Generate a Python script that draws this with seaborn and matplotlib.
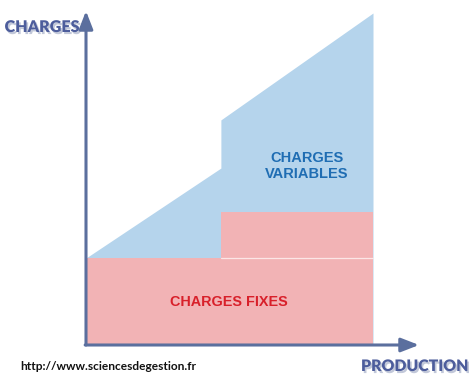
import matplotlib
matplotlib.use("Agg")
import matplotlib.pyplot as plt
import matplotlib.patheffects as pe
import seaborn as sns
import numpy as np

# Data (production units vs charge units)
production = [0.0, 4.7, 4.7, 10.0]
total_charges = [2.62, 5.33, 6.78, 10.0]     # top of blue area (total)
fixed_level = 2.62                            # charges fixes
step_start = 4.7                              # second level of fixed charges
fixed_level2 = 4.0
prod_max = 10.0

sns.set_theme(style="white")
plt.rcParams['font.family'] = ['Liberation Sans', 'DejaVu Sans']

fig = plt.figure(figsize=(4.74, 3.85), dpi=100)
ax = fig.add_axes([0, 0, 1, 1])
sx, sy = 28.7, 33.2
ax.set_xlim(-86 / sx, (474 - 86) / sx)
ax.set_ylim((345 - 385) / sy, 345 / sy)
ax.axis("off")

blue = "#b5d4ec"
pink = "#f2b3b5"
axis_col = "#5b6f9e"

# total charges (blue)
ax.fill_between(production, 0, total_charges, color=blue, lw=0, zorder=1)
# fixed charges (pink)
ax.fill_between([0, prod_max], 0, fixed_level, color=pink, lw=0, zorder=2)
ax.fill_between([step_start, prod_max], fixed_level, fixed_level2, color=pink, lw=0, zorder=2)
ax.plot([step_start, prod_max], [fixed_level, fixed_level], color="#fbe6e6", lw=0.9, zorder=3)

# axes arrows
ax.annotate("", xy=(0, (345 - 11) / sy), xytext=(0, 0),
            arrowprops=dict(arrowstyle="-|>,head_length=0.9,head_width=0.35",
                            color=axis_col, lw=2.2, shrinkA=0, shrinkB=0), zorder=5)
ax.annotate("", xy=((419 - 86) / sx, 0), xytext=(-0.03, 0),
            arrowprops=dict(arrowstyle="-|>,head_length=0.9,head_width=0.35",
                            color=axis_col, lw=2.2, shrinkA=0, shrinkB=0), zorder=5)

title_font = ["Lato", "DejaVu Sans"]
shadow = [pe.SimplePatchShadow(offset=(1.2, -1.5), shadow_rgbFace="#9aa4c0", alpha=0.6), pe.Normal()]
ax.text((42 - 86) / sx, (345 - 27) / sy, "CHARGES", ha="center", va="center",
        fontsize=11.6, fontweight="heavy", color="#4d5d9c", family=title_font,
        path_effects=shadow)
ax.text((415 - 86) / sx, (345 - 366) / sy, "PRODUCTION", ha="center", va="center",
        fontsize=11.4, fontweight="heavy", color="#4d5d9c", family=title_font,
        path_effects=shadow)
ax.text((20 - 86) / sx, (345 - 366) / sy, "http://www.sciencesdegestion.fr", ha="left", va="center",
        fontsize=8.6, fontweight="bold", color="#111111", family=["Lato", "DejaVu Sans"])

ax.text((307 - 86) / sx, (345 - 166) / sy, "CHARGES\nVARIABLES", ha="center", va="center",
        fontsize=10.5, fontweight="bold", color="#1f6db3", linespacing=1.2)
ax.text((229 - 86) / sx, (345 - 302) / sy, "CHARGES FIXES", ha="center", va="center",
        fontsize=10.4, fontweight="bold", color="#d8202a")

fig.savefig("out.png", dpi=100)
